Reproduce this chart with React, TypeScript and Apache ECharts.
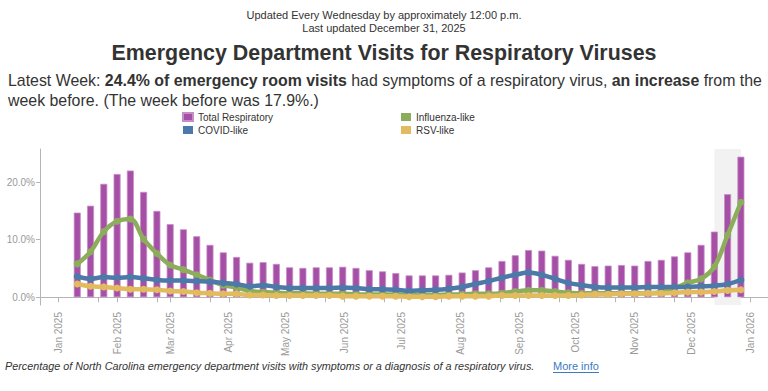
import React, { useEffect, useRef } from "react";
import * as echarts from "echarts";

const weeks = [
  "2025-01-11", "2025-01-18", "2025-01-25", "2025-02-01", "2025-02-08", "2025-02-15", "2025-02-22",
  "2025-03-01", "2025-03-08", "2025-03-15", "2025-03-22", "2025-03-29", "2025-04-05", "2025-04-12",
  "2025-04-19", "2025-04-26", "2025-05-03", "2025-05-10", "2025-05-17", "2025-05-24", "2025-05-31",
  "2025-06-07", "2025-06-14", "2025-06-21", "2025-06-28", "2025-07-05", "2025-07-12", "2025-07-19",
  "2025-07-26", "2025-08-02", "2025-08-09", "2025-08-16", "2025-08-23", "2025-08-30", "2025-09-06",
  "2025-09-13", "2025-09-20", "2025-09-27", "2025-10-04", "2025-10-11", "2025-10-18", "2025-10-25",
  "2025-11-01", "2025-11-08", "2025-11-15", "2025-11-22", "2025-11-29", "2025-12-06", "2025-12-13",
  "2025-12-20", "2025-12-27",
];

const totalRespiratory = [
  14.7, 15.9, 19.7, 21.4, 22.0, 18.3, 15.0, 12.7, 11.8, 10.6, 9.1, 7.8, 7.0, 6.0, 6.1, 5.8, 5.2,
  5.1, 5.2, 5.2, 5.3, 5.1, 4.7, 4.5, 4.2, 3.8, 3.8, 3.8, 3.9, 4.3, 4.7, 5.2, 6.3, 7.3, 8.2, 8.1,
  7.2, 6.5, 5.8, 5.4, 5.5, 5.6, 5.5, 6.3, 6.5, 7.1, 7.8, 9.1, 11.4, 17.9, 24.4,
];

const covidLike = [
  3.6, 3.2, 3.5, 3.4, 3.5, 3.3, 3.0, 2.9, 2.9, 2.8, 2.7, 2.5, 2.3, 1.9, 2.1, 1.8, 1.6, 1.6, 1.6,
  1.6, 1.7, 1.6, 1.4, 1.4, 1.3, 1.1, 1.2, 1.3, 1.5, 1.8, 2.3, 2.8, 3.4, 3.9, 4.3, 3.9, 3.2, 2.5,
  2.1, 1.8, 1.7, 1.7, 1.7, 1.8, 1.8, 1.8, 1.8, 1.9, 2.0, 2.3, 3.0,
];

const influenzaLike = [
  5.8, 7.9, 11.4, 13.2, 13.6, 10.1, 7.6, 5.6, 4.8, 3.9, 3.0, 2.1, 1.7, 1.1, 0.9, 0.8, 0.7, 0.7,
  0.6, 0.6, 0.6, 0.5, 0.5, 0.5, 0.5, 0.4, 0.4, 0.4, 0.5, 0.5, 0.6, 0.6, 0.7, 1.0, 1.2, 1.2, 1.0,
  0.8, 0.7, 0.7, 0.7, 0.7, 0.7, 0.7, 0.9, 1.6, 2.5, 3.2, 5.3, 10.8, 16.5,
];

const rsvLike = [
  2.3, 1.9, 1.8, 1.6, 1.4, 1.4, 1.3, 1.1, 1.0, 0.8, 0.7, 0.6, 0.6, 0.4, 0.4, 0.3, 0.3, 0.3, 0.3,
  0.3, 0.2, 0.2, 0.2, 0.2, 0.2, 0.1, 0.1, 0.1, 0.2, 0.2, 0.2, 0.2, 0.3, 0.3, 0.3, 0.3, 0.3, 0.3,
  0.4, 0.5, 0.5, 0.6, 0.6, 0.7, 0.7, 0.8, 0.9, 0.9, 1.0, 1.2, 1.3,
];

const monthTicks = [
  "2025-01-01", "2025-02-01", "2025-03-01", "2025-04-01", "2025-05-01", "2025-06-01", "2025-07-01",
  "2025-08-01", "2025-09-01", "2025-10-01", "2025-11-01", "2025-12-01", "2026-01-01",
];
const minorTicks = [
  "2025-01-22", "2025-02-22", "2025-03-22", "2025-04-22", "2025-05-22", "2025-06-22", "2025-07-22",
  "2025-08-22", "2025-09-22", "2025-10-22", "2025-11-22", "2025-12-22",
];
const yTicks = [0, 10, 20];
const incompleteStart = "2025-12-13";
const incompleteEnd = "2025-12-27";

const MONTHS = ["Jan", "Feb", "Mar", "Apr", "May", "Jun", "Jul", "Aug", "Sep", "Oct", "Nov", "Dec"];
const FONT = "'Liberation Sans', Arial, Helvetica, sans-serif";

const toTs = (s: string) => {
  const [y, m, d] = s.split("-").map(Number);
  return Date.UTC(y, m - 1, d);
};

const COLORS = {
  total: "#a64fa6",
  covid: "#4c79a8",
  flu: "#8cad5b",
  rsv: "#e1bb5d",
};

export default function App() {
  const ref = useRef<HTMLDivElement>(null);
  useEffect(() => {
    if (!ref.current) return;
    const chart = echarts.init(ref.current, null, { renderer: "svg" });
    const pair = (vals: number[]) => weeks.map((w, i) => [toTs(w), vals[i]]);
    const lineSeries = (name: string, vals: number[], color: string, z: number) => ({
      name,
      type: "line",
      data: pair(vals),
      smooth: 0.35,
      symbol: "circle",
      symbolSize: 7,
      z,
      lineStyle: { color, width: 4.5 },
      itemStyle: { color },
      emphasis: { disabled: true },
    });
    const legendBase = {
      orient: "vertical",
      icon: "rect",
      itemWidth: 10,
      itemHeight: 8,
      itemGap: 3,
      padding: 0,
      textStyle: { fontFamily: FONT, fontSize: 10, color: "#333" },
      selectedMode: false,
    };
    const DAY = 86400000;
    chart.setOption({
      animation: false,
      textStyle: { fontFamily: FONT },
      grid: { left: 40, right: 0, top: 149, height: 156 },
      legend: [
        { ...legendBase, left: 182, top: 112, data: ["Total Respiratory", "COVID-like"] },
        { ...legendBase, left: 401, top: 112, data: ["Influenza-like", "RSV-like"] },
      ],
      xAxis: {
        type: "value",
        min: toTs("2025-01-01") - 9.65 * DAY,
        max: toTs("2026-01-10") + 0.3 * DAY,
        splitLine: { show: false },
        axisLine: { lineStyle: { color: "#b5b5b5" } },
        axisTick: {
          show: true,
          length: 5,
          lineStyle: { color: "#b5b5b5" },
          customValues: [...monthTicks, ...minorTicks].map(toTs),
        },
        axisLabel: {
          customValues: monthTicks.map(toTs),
          rotate: 90,
          margin: 7,
          color: "#999",
          fontSize: 10,
          fontFamily: FONT,
          formatter: (v: number) => {
            const d = new Date(v);
            return MONTHS[d.getUTCMonth()] + " " + d.getUTCFullYear();
          },
        },
      },
      yAxis: {
        type: "value",
        min: -1.34,
        max: 25.74,
        splitLine: { show: false },
        axisLine: { show: true, lineStyle: { color: "#b5b5b5" } },
        axisTick: { show: true, length: 4, lineStyle: { color: "#b5b5b5" }, customValues: yTicks },
        axisLabel: {
          customValues: yTicks,
          color: "#999",
          fontSize: 10,
          fontFamily: FONT,
          margin: 5,
          formatter: (v: number) => v.toFixed(1) + "%",
        },
      },
      series: [
        {
          name: "incomplete",
          type: "line",
          data: [],
          z: 0,
          silent: true,
          markArea: {
            silent: true,
            itemStyle: { color: "#f2f2f2" },
            data: [[{ xAxis: toTs(incompleteStart) }, { xAxis: toTs(incompleteEnd) }]],
          },
        },
        {
          name: "Total Respiratory",
          type: "bar",
          data: pair(totalRespiratory),
          barWidth: 7,
          z: 2,
          itemStyle: { color: COLORS.total, borderColor: "#c68ec6", borderWidth: 0.8 },
          emphasis: { disabled: true },
        },
        lineSeries("Influenza-like", influenzaLike, COLORS.flu, 3),
        lineSeries("COVID-like", covidLike, COLORS.covid, 4),
        lineSeries("RSV-like", rsvLike, COLORS.rsv, 5),
      ],
      graphic: [
        {
          type: "text",
          left: "center",
          top: 9,
          style: {
            text: "Updated Every Wednesday by approximately 12:00 p.m.",
            font: `11px ${FONT}`,
            fill: "#333",
          },
        },
        {
          type: "text",
          left: "center",
          top: 22,
          style: { text: "Last updated December 31, 2025", font: `11px ${FONT}`, fill: "#333" },
        },
        {
          type: "text",
          left: "center",
          top: 42,
          style: {
            text: "Emergency Department Visits for Respiratory Viruses",
            font: `bold 21.4px ${FONT}`,
            fill: "#333",
          },
        },
        {
          type: "text",
          left: 8,
          top: 72,
          style: {
            text:
              "{n|Latest Week: }{b|24.4% of emergency room visits}{n| had symptoms of a respiratory virus, }{b|an increase}{n| from the}",
            rich: {
              n: { font: `15.9px ${FONT}`, fill: "#333" },
              b: { font: `bold 15.9px ${FONT}`, fill: "#333" },
            },
          },
        },
        {
          type: "text",
          left: 8,
          top: 92,
          style: {
            text: "week before. (The week before was 17.9%.)",
            font: `15.9px ${FONT}`,
            fill: "#333",
          },
        },
        {
          type: "text",
          left: 5,
          top: 360,
          style: {
            text:
              "Percentage of North Carolina emergency department visits with symptoms or a diagnosis of a respiratory virus.",
            font: `italic 10.8px ${FONT}`,
            fill: "#333",
          },
        },
        {
          type: "text",
          left: 553,
          top: 360,
          style: { text: "More info", font: `11px ${FONT}`, fill: "#3b7bbf" },
        },
        {
          type: "line",
          shape: { x1: 553, y1: 372.5, x2: 599, y2: 372.5 },
          style: { stroke: "#3b7bbf", lineWidth: 1 },
        },
      ],
    });
    return () => chart.dispose();
  }, []);
  return (
    <div
      ref={ref}
      style={{ position: "fixed", left: 0, top: 0, width: 768, height: 391, background: "#fff" }}
    />
  );
}
